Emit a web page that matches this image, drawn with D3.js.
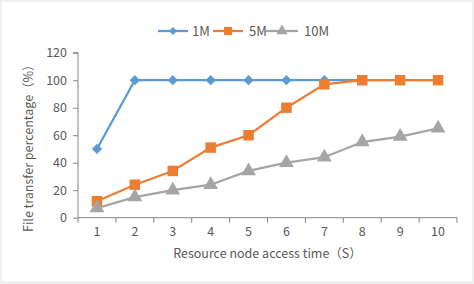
<!DOCTYPE html>
<html><head><meta charset="utf-8">
<script src="https://cdn.jsdelivr.net/npm/d3@7"></script>
<style>body{margin:0;background:#fff}svg{display:block}</style>
</head><body>
<svg id="c" width="474" height="284"></svg>
<script>
const categories = [1,2,3,4,5,6,7,8,9,10];
const series1M = [50,100,100,100,100,100,100,100,100,100];
const series5M = [12,24,34,51,60,80,97,100,100,100];
const series10M = [7,15,20,24,34,40,44,55,59,65];
const yTicks = [0,20,40,60,80,100,120];
const seriesNames = ["1M","5M","10M"];
const colors = ["#5b9bd5","#ed7d31","#a5a5a5"];
const font = "'Noto Sans CJK SC','Noto Sans',sans-serif";

const svg = d3.select("#c");
svg.append("rect").attr("width",474).attr("height",284).attr("fill","#f0f0f0");
svg.append("rect").attr("x",2).attr("y",2).attr("width",470).attr("height",279).attr("fill","#fff");

const x0=78, x1=457, yTop=52.7, yBot=217.7;
const x = d3.scaleBand().domain(categories).range([x0,x1]);
const y = d3.scaleLinear().domain([0,120]).range([yBot,yTop]);

// axes
const ya = svg.append("g").attr("transform",`translate(${x0},0)`)
  .call(d3.axisLeft(y).tickValues(yTicks).tickSize(5).tickPadding(6));
ya.select(".domain").attr("stroke","#868686").attr("d",`M-5,${yTop}H0V${yBot}`);
ya.selectAll(".tick line").attr("stroke","#868686");
ya.selectAll("text").attr("fill","#595959").style("font-family",font).style("font-size","12.5px");

const xa = svg.append("g").attr("transform",`translate(0,${yBot})`)
  .call(d3.axisBottom(x).tickSize(0).tickPadding(9));
xa.select(".domain").attr("stroke","#868686").attr("d",`M${x0},0H${x1}V5`);
xa.selectAll("text").attr("fill","#595959").style("font-family",font).style("font-size","12.5px");
const bounds = categories.map(c=>x(c));
xa.selectAll(".bt").data(bounds).enter().append("line")
  .attr("x1",d=>d).attr("x2",d=>d).attr("y1",0).attr("y2",5).attr("stroke","#868686");

// lines
const all = [series1M,series5M,series10M];
const line = d3.line().x((d,i)=>x(categories[i])+x.bandwidth()/2).y(d=>y(d));
const symbols = [d3.symbolDiamond2, d3.symbolSquare, d3.symbolTriangle];
const sizes = [68, 110, 95];
all.forEach((s,k)=>{
  svg.append("path").datum(s).attr("d",line).attr("fill","none")
    .attr("stroke",colors[k]).attr("stroke-width",2.25);
  svg.selectAll(".m"+k).data(s).enter().append("path")
    .attr("transform",(d,i)=>`translate(${x(categories[i])+x.bandwidth()/2},${y(d)})`)
    .attr("d",d3.symbol().type(symbols[k]).size(sizes[k])).attr("fill",colors[k]);
});

// legend
const legX = [158,213,266], legTextX=[192,249,304], legY=31;
seriesNames.forEach((n,k)=>{
  const w = k===2?32:30;
  svg.append("line").attr("x1",legX[k]).attr("x2",legX[k]+w).attr("y1",legY).attr("y2",legY)
    .attr("stroke",colors[k]).attr("stroke-width",2.25);
  svg.append("path").attr("transform",`translate(${legX[k]+w/2},${legY})`)
    .attr("d",d3.symbol().type(symbols[k]).size(sizes[k]*0.6)).attr("fill",colors[k]);
  svg.append("text").attr("x",legTextX[k]).attr("y",legY+5).text(n)
    .attr("fill","#595959").style("font-family",font).style("font-size","13px");
});

// titles
svg.append("text").attr("x",(x0+x1)/2).attr("y",258).attr("text-anchor","middle")
  .text("Resource node access time（S）").attr("fill","#595959")
  .style("font-family",font).style("font-size","12.5px");
svg.append("text").attr("transform",`translate(33,${(yTop+yBot)/2+10}) rotate(-90)`)
  .attr("text-anchor","middle").text("File transfer percentage（%）").attr("fill","#595959")
  .style("font-family",font).style("font-size","12.5px");
</script>
</body></html>
